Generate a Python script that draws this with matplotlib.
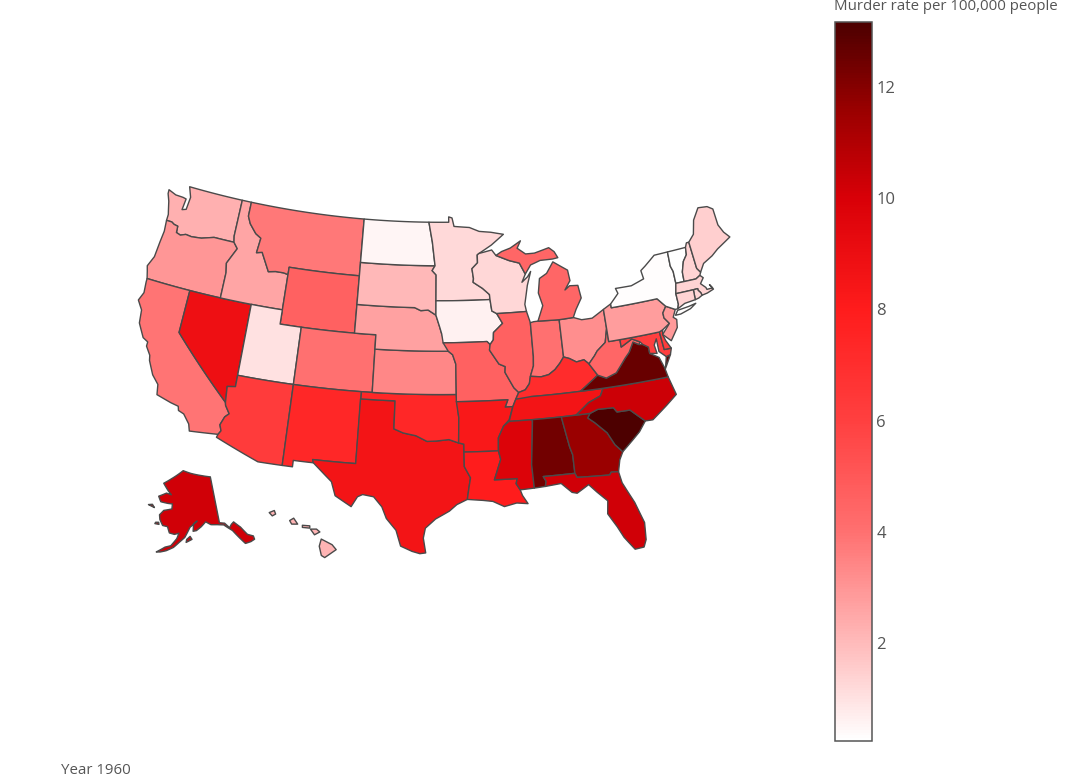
import numpy as np
import matplotlib
matplotlib.use('Agg')
import matplotlib.pyplot as plt
from matplotlib.collections import PolyCollection
from matplotlib.colors import LinearSegmentedColormap, Normalize

# murder rate per 100,000 for 1960, estimated from the fill colours
states = ['WA', 'OR', 'CA', 'NV', 'ID', 'MT', 'WY', 'UT', 'CO', 'AZ', 'NM', 'TX', 'OK', 'KS', 'NE', 'SD', 'ND',
          'MN', 'IA', 'MO', 'AR', 'LA', 'WI', 'IL', 'IN', 'OH', 'MI', 'KY', 'TN', 'MS', 'AL', 'GA', 'FL', 'SC',
          'NC', 'VA', 'WV', 'MD', 'DE', 'PA', 'NJ', 'NY', 'VT', 'NH', 'ME', 'MA', 'RI', 'CT', 'AK', 'HI']
rates = [2.3, 3.0, 3.9, 8.9, 2.6, 3.8, 4.6, 1.0, 4.0, 6.3, 7.4, 8.6, 7.4, 3.4, 2.7, 2.1, 0.5,
         1.2, 0.6, 4.6, 8.3, 8.0, 1.3, 4.6, 4.0, 3.2, 4.4, 7.1, 8.6, 9.8, 12.4, 11.6, 10.2, 13.2,
         10.3, 12.6, 4.4, 6.0, 6.2, 2.8, 2.9, 0.3, 0.25, 1.4, 1.5, 1.4, 1.3, 1.4, 10.2, 2.2]
tick_values = [2, 4, 6, 8, 10, 12]
rate_min = 0.24
rate_max = 13.17

# state outlines, lon/lat
outlines = {
    'WA': [[(-124.73, 48.38), (-123.9, 48.17), (-123.1, 48.15), (-122.75, 48.1), (-122.85, 47.3), (-122.45, 47.4), (-122.35, 48.3), (-122.75, 49.0), (-117.03, 49.0), (-117.04, 46.42), (-116.92, 45.99), (-118.98, 46.0), (-119.3, 45.93), (-120.2, 45.73), (-121.2, 45.65), (-121.8, 45.7), (-122.3, 45.55), (-122.75, 45.65), (-122.8, 46.1), (-123.2, 46.15), (-123.5, 46.27), (-124.05, 46.27), (-124.05, 46.7), (-124.15, 46.95), (-124.4, 47.6), (-124.7, 48.1)]],
    'OR': [[(-124.05, 46.27), (-123.5, 46.27), (-123.2, 46.15), (-122.8, 46.1), (-122.75, 45.65), (-122.3, 45.55), (-121.8, 45.7), (-121.2, 45.65), (-120.2, 45.73), (-119.3, 45.93), (-118.98, 46.0), (-116.92, 45.99), (-116.46, 45.6), (-116.85, 45.0), (-117.2, 44.45), (-117.03, 43.8), (-117.03, 42.0), (-124.21, 42.0), (-124.4, 42.5), (-124.55, 42.85), (-124.15, 43.6), (-124.05, 44.7), (-123.95, 45.5)]],
    'CA': [[(-124.21, 42.0), (-120.0, 42.0), (-120.0, 39.0), (-114.63, 35.0), (-114.57, 34.8), (-114.13, 34.27), (-114.45, 34.0), (-114.72, 33.4), (-114.53, 33.0), (-114.72, 32.72), (-117.12, 32.53), (-117.3, 33.0), (-117.9, 33.6), (-118.4, 33.75), (-118.5, 34.03), (-119.2, 34.15), (-120.5, 34.45), (-120.65, 35.15), (-121.3, 35.7), (-121.9, 36.6), (-122.0, 36.95), (-122.5, 37.5), (-122.5, 37.8), (-123.0, 38.0), (-123.7, 38.9), (-123.85, 39.8), (-124.4, 40.4), (-124.1, 41.0), (-124.2, 41.75)]],
    'NV': [[(-120.0, 42.0), (-114.04, 42.0), (-114.04, 36.2), (-114.75, 36.1), (-114.63, 35.0), (-120.0, 39.0)]],
    'ID': [[(-117.03, 49.0), (-116.05, 49.0), (-116.05, 48.0), (-115.7, 47.5), (-114.95, 46.9), (-114.35, 46.65), (-114.5, 45.6), (-113.95, 45.7), (-113.45, 45.05), (-113.0, 44.45), (-112.3, 44.55), (-111.5, 44.55), (-111.05, 44.48), (-111.05, 42.0), (-117.03, 42.0), (-117.03, 43.8), (-117.2, 44.45), (-116.85, 45.0), (-116.46, 45.6), (-116.92, 45.99), (-117.04, 46.42)]],
    'MT': [[(-116.05, 49.0), (-104.05, 49.0), (-104.05, 45.0), (-111.05, 45.0), (-111.05, 44.48), (-111.5, 44.55), (-112.3, 44.55), (-113.0, 44.45), (-113.45, 45.05), (-113.95, 45.7), (-114.5, 45.6), (-114.35, 46.65), (-114.95, 46.9), (-115.7, 47.5), (-116.05, 48.0)]],
    'WY': [[(-111.05, 45.0), (-104.05, 45.0), (-104.05, 41.0), (-111.05, 41.0)]],
    'UT': [[(-114.04, 42.0), (-111.05, 42.0), (-111.05, 41.0), (-109.05, 41.0), (-109.05, 37.0), (-114.04, 37.0)]],
    'CO': [[(-109.05, 41.0), (-102.05, 41.0), (-102.05, 37.0), (-109.05, 37.0)]],
    'AZ': [[(-114.04, 37.0), (-109.05, 37.0), (-109.05, 31.33), (-111.07, 31.33), (-114.8, 32.5), (-114.72, 32.72), (-114.53, 33.0), (-114.72, 33.4), (-114.45, 34.0), (-114.13, 34.27), (-114.57, 34.8), (-114.63, 35.0), (-114.75, 36.1), (-114.04, 36.2)]],
    'NM': [[(-109.05, 37.0), (-103.0, 37.0), (-103.04, 32.0), (-106.62, 32.0), (-106.53, 31.78), (-108.2, 31.78), (-108.2, 31.33), (-109.05, 31.33)]],
    'TX': [[(-103.04, 36.5), (-100.0, 36.5), (-100.0, 34.56), (-99.2, 34.3), (-98.1, 34.13), (-97.15, 33.75), (-96.4, 33.78), (-95.3, 33.88), (-94.48, 33.64), (-94.04, 33.55), (-94.04, 31.99), (-93.55, 31.2), (-93.7, 30.5), (-93.85, 29.7), (-94.7, 29.35), (-95.3, 28.9), (-96.4, 28.35), (-97.2, 27.7), (-97.35, 27.0), (-97.15, 25.96), (-97.6, 25.9), (-98.2, 26.05), (-99.1, 26.4), (-99.5, 27.5), (-100.3, 28.3), (-100.7, 29.1), (-101.4, 29.77), (-102.3, 29.88), (-102.7, 29.7), (-103.15, 28.98), (-104.5, 29.65), (-104.9, 30.6), (-106.0, 31.4), (-106.53, 31.78), (-106.62, 32.0), (-103.04, 32.0)]],
    'OK': [[(-103.0, 37.0), (-94.62, 37.0), (-94.43, 35.4), (-94.48, 33.64), (-95.3, 33.88), (-96.4, 33.78), (-97.15, 33.75), (-98.1, 34.13), (-99.2, 34.3), (-100.0, 34.56), (-100.0, 36.5), (-103.0, 36.5)]],
    'KS': [[(-102.05, 40.0), (-95.3, 40.0), (-94.9, 39.75), (-94.62, 39.1), (-94.62, 37.0), (-102.05, 37.0)]],
    'NE': [[(-104.05, 43.0), (-98.5, 43.0), (-97.9, 42.8), (-97.2, 42.85), (-96.45, 42.5), (-96.1, 41.7), (-95.9, 41.2), (-95.3, 40.0), (-102.05, 40.0), (-102.05, 41.0), (-104.05, 41.0)]],
    'SD': [[(-104.05, 45.94), (-96.56, 45.94), (-96.85, 45.6), (-96.45, 45.3), (-96.45, 43.5), (-96.45, 42.5), (-97.2, 42.85), (-97.9, 42.8), (-98.5, 43.0), (-104.05, 43.0)]],
    'ND': [[(-104.05, 49.0), (-97.23, 49.0), (-96.85, 47.6), (-96.56, 45.94), (-104.05, 45.94)]],
    'MN': [[(-97.23, 49.0), (-95.15, 49.0), (-95.15, 49.38), (-94.8, 49.3), (-94.6, 48.7), (-93.0, 48.6), (-92.0, 48.3), (-90.8, 48.2), (-89.5, 48.0), (-90.8, 47.3), (-92.1, 46.75), (-92.29, 46.65), (-92.29, 46.1), (-92.87, 45.7), (-92.75, 45.0), (-92.8, 44.75), (-91.9, 44.3), (-91.25, 43.85), (-91.22, 43.5), (-96.45, 43.5), (-96.45, 45.3), (-96.85, 45.6), (-96.56, 45.94), (-96.85, 47.6)]],
    'IA': [[(-96.45, 43.5), (-91.22, 43.5), (-91.1, 42.7), (-90.65, 42.5), (-90.15, 41.8), (-91.05, 41.2), (-91.1, 40.7), (-91.42, 40.38), (-91.7, 40.6), (-95.77, 40.58), (-95.9, 41.2), (-96.1, 41.7), (-96.45, 42.5)]],
    'MO': [[(-95.77, 40.58), (-91.7, 40.6), (-91.42, 40.38), (-91.5, 40.0), (-90.7, 39.0), (-90.15, 38.8), (-90.2, 38.4), (-89.5, 37.3), (-89.1, 36.95), (-89.4, 36.5), (-89.7, 36.0), (-90.37, 36.0), (-90.1, 36.5), (-94.62, 36.5), (-94.62, 39.1), (-94.9, 39.75), (-95.3, 40.0)]],
    'AR': [[(-94.62, 36.5), (-90.1, 36.5), (-90.37, 36.0), (-89.7, 36.0), (-90.1, 35.1), (-90.6, 34.7), (-91.1, 33.9), (-91.15, 33.0), (-94.04, 33.0), (-94.04, 33.55), (-94.48, 33.64), (-94.43, 35.4)]],
    'LA': [[(-94.04, 33.0), (-91.15, 33.0), (-91.0, 32.4), (-91.6, 31.0), (-89.73, 31.0), (-89.85, 30.65), (-89.55, 30.2), (-89.4, 29.8), (-89.0, 29.2), (-89.9, 29.3), (-90.9, 29.1), (-91.8, 29.5), (-92.6, 29.6), (-93.85, 29.7), (-93.7, 30.5), (-93.55, 31.2), (-94.04, 31.99)]],
    'WI': [[(-92.1, 46.75), (-90.8, 46.95), (-90.4, 46.55), (-89.1, 46.13), (-88.1, 45.9), (-87.6, 45.1), (-88.0, 44.55), (-87.4, 44.9), (-87.05, 45.25), (-87.5, 44.3), (-87.9, 43.0), (-87.8, 42.5), (-90.65, 42.5), (-91.1, 42.7), (-91.22, 43.5), (-91.25, 43.85), (-91.9, 44.3), (-92.8, 44.75), (-92.75, 45.0), (-92.87, 45.7), (-92.29, 46.1), (-92.29, 46.65)]],
    'IL': [[(-90.65, 42.5), (-87.8, 42.5), (-87.53, 41.7), (-87.53, 39.35), (-87.6, 38.7), (-87.95, 38.0), (-88.1, 37.5), (-88.5, 37.1), (-89.1, 36.95), (-89.5, 37.3), (-90.2, 38.4), (-90.15, 38.8), (-90.7, 39.0), (-91.5, 40.0), (-91.42, 40.38), (-91.1, 40.7), (-91.05, 41.2), (-90.15, 41.8)]],
    'IN': [[(-87.53, 41.7), (-87.2, 41.75), (-86.8, 41.76), (-84.8, 41.7), (-84.8, 39.1), (-85.2, 38.7), (-85.7, 38.3), (-86.3, 38.0), (-87.0, 37.9), (-87.95, 38.0), (-87.6, 38.7), (-87.53, 39.35)]],
    'OH': [[(-84.8, 41.7), (-83.45, 41.73), (-82.7, 41.5), (-81.7, 41.5), (-80.52, 41.98), (-80.52, 40.64), (-80.85, 39.7), (-81.7, 39.2), (-82.0, 38.9), (-82.6, 38.4), (-83.0, 38.73), (-83.7, 38.65), (-84.3, 38.95), (-84.8, 39.1)]],
    'MI': [[(-86.8, 41.76), (-84.8, 41.7), (-83.45, 41.73), (-83.1, 42.25), (-82.45, 43.0), (-82.6, 43.9), (-83.4, 43.95), (-83.9, 43.7), (-83.3, 44.3), (-83.4, 45.05), (-84.75, 45.75), (-85.5, 45.0), (-86.25, 44.7), (-86.5, 43.7), (-86.2, 42.8)],
           [(-90.4, 46.55), (-89.1, 46.13), (-88.1, 45.9), (-87.6, 45.1), (-87.0, 45.7), (-86.0, 45.95), (-84.75, 45.95), (-84.2, 46.0), (-84.5, 46.45), (-85.0, 46.77), (-86.5, 46.5), (-87.4, 46.5), (-88.2, 46.95), (-87.8, 47.45), (-88.9, 47.0), (-89.8, 46.8)]],
    'KY': [[(-89.4, 36.5), (-89.1, 36.95), (-88.5, 37.1), (-88.1, 37.5), (-87.95, 38.0), (-87.0, 37.9), (-86.3, 38.0), (-85.7, 38.3), (-85.2, 38.7), (-84.8, 39.1), (-84.3, 38.95), (-83.7, 38.65), (-83.0, 38.73), (-82.6, 38.4), (-81.97, 37.54), (-83.68, 36.6), (-88.07, 36.6), (-88.07, 36.5)]],
    'TN': [[(-90.1, 35.0), (-89.7, 36.0), (-89.4, 36.5), (-88.07, 36.6), (-83.68, 36.6), (-81.68, 36.59), (-82.0, 36.1), (-83.1, 35.75), (-84.32, 35.0)]],
    'MS': [[(-90.1, 35.0), (-88.2, 35.0), (-88.1, 34.9), (-88.47, 31.9), (-88.4, 30.25), (-89.55, 30.2), (-89.85, 30.65), (-89.73, 31.0), (-91.6, 31.0), (-91.0, 32.4), (-91.15, 33.0), (-91.1, 33.9), (-90.6, 34.7)]],
    'AL': [[(-88.2, 35.0), (-85.6, 35.0), (-85.18, 32.87), (-85.0, 32.3), (-85.0, 31.0), (-87.6, 31.0), (-87.4, 30.65), (-87.5, 30.3), (-88.4, 30.25), (-88.47, 31.9), (-88.1, 34.9)]],
    'GA': [[(-85.6, 35.0), (-83.1, 35.0), (-83.35, 34.7), (-82.8, 34.3), (-81.9, 33.5), (-81.4, 32.6), (-80.85, 32.03), (-81.2, 31.5), (-81.45, 30.7), (-82.05, 30.75), (-82.2, 30.57), (-84.86, 30.7), (-85.0, 31.0), (-85.0, 32.3), (-85.18, 32.87)]],
    'FL': [[(-87.6, 31.0), (-85.0, 31.0), (-84.86, 30.7), (-82.2, 30.57), (-82.05, 30.75), (-81.45, 30.7), (-81.3, 29.9), (-80.55, 28.4), (-80.05, 26.9), (-80.15, 25.7), (-80.4, 25.2), (-81.1, 25.15), (-81.8, 26.1), (-82.2, 26.9), (-82.8, 27.9), (-82.65, 28.8), (-83.4, 29.5), (-84.0, 30.1), (-85.0, 29.6), (-85.4, 29.7), (-86.2, 30.4), (-87.5, 30.3), (-87.4, 30.65)]],
    'SC': [[(-83.35, 34.7), (-83.1, 35.0), (-82.4, 35.2), (-81.05, 35.15), (-80.8, 34.82), (-79.67, 34.8), (-78.55, 33.87), (-79.2, 33.2), (-79.9, 32.7), (-80.85, 32.03), (-81.4, 32.6), (-81.9, 33.5), (-82.8, 34.3)]],
    'NC': [[(-84.32, 35.0), (-83.1, 35.75), (-82.0, 36.1), (-81.68, 36.59), (-75.87, 36.55), (-75.5, 35.25), (-76.5, 34.65), (-77.9, 33.85), (-78.55, 33.87), (-79.67, 34.8), (-80.8, 34.82), (-81.05, 35.15), (-82.4, 35.2), (-83.1, 35.0)]],
    'VA': [[(-83.68, 36.6), (-81.68, 36.59), (-75.87, 36.55), (-76.0, 37.2), (-76.3, 38.0), (-77.05, 38.4), (-77.05, 38.85), (-77.5, 39.1), (-77.85, 39.15), (-78.35, 39.4), (-78.85, 38.75), (-79.3, 38.4), (-80.3, 37.5), (-81.25, 37.25), (-81.97, 37.54)],
           [(-75.95, 37.15), (-75.25, 38.03), (-75.65, 37.95)]],
    'WV': [[(-82.6, 38.4), (-81.97, 37.54), (-81.25, 37.25), (-80.3, 37.5), (-79.3, 38.4), (-78.85, 38.75), (-78.35, 39.4), (-77.85, 39.15), (-77.72, 39.32), (-78.4, 39.62), (-79.48, 39.2), (-79.48, 39.72), (-80.52, 39.72), (-80.52, 40.64), (-80.85, 39.7), (-81.7, 39.2), (-82.0, 38.9)]],
    'MD': [[(-79.48, 39.72), (-75.79, 39.72), (-75.7, 38.46), (-75.05, 38.45), (-75.25, 38.03), (-75.65, 37.95), (-76.2, 38.4), (-76.2, 39.3), (-76.5, 38.9), (-76.4, 38.3), (-77.05, 38.4), (-77.05, 38.85), (-77.5, 39.1), (-77.72, 39.32), (-78.4, 39.62), (-79.48, 39.2)]],
    'DE': [[(-75.79, 39.72), (-75.45, 39.82), (-75.55, 39.5), (-75.4, 39.05), (-75.05, 38.45), (-75.7, 38.46)]],
    'PA': [[(-80.52, 41.98), (-79.76, 42.27), (-79.76, 42.0), (-75.35, 42.0), (-74.7, 41.36), (-75.1, 40.95), (-75.1, 40.6), (-74.72, 40.15), (-75.45, 39.82), (-75.79, 39.72), (-80.52, 39.72)]],
    'NJ': [[(-74.7, 41.36), (-73.9, 41.0), (-74.25, 40.5), (-73.98, 40.3), (-74.1, 39.75), (-74.9, 38.95), (-75.55, 39.5), (-74.72, 40.15), (-75.1, 40.6), (-75.1, 40.95)]],
    'NY': [[(-79.76, 42.27), (-79.76, 42.0), (-75.35, 42.0), (-74.7, 41.36), (-73.9, 41.0), (-73.65, 41.0), (-73.5, 41.3), (-73.5, 42.05), (-73.27, 42.75), (-73.25, 43.6), (-73.4, 44.0), (-73.34, 45.01), (-74.7, 45.0), (-75.8, 44.4), (-76.3, 44.15), (-76.2, 43.55), (-77.5, 43.25), (-79.05, 43.27), (-78.9, 42.9)],
           [(-74.0, 40.6), (-73.7, 40.9), (-72.6, 40.98), (-71.9, 41.07), (-72.5, 40.8), (-73.5, 40.6)]],
    'VT': [[(-73.34, 45.01), (-71.5, 45.01), (-71.6, 44.5), (-72.05, 44.1), (-72.4, 43.4), (-72.46, 42.73), (-73.27, 42.75), (-73.25, 43.6), (-73.4, 44.0)]],
    'NH': [[(-71.5, 45.01), (-71.3, 45.3), (-71.05, 45.3), (-70.97, 43.4), (-70.7, 43.07), (-70.85, 42.87), (-71.3, 42.7), (-72.46, 42.73), (-72.4, 43.4), (-72.05, 44.1), (-71.6, 44.5)]],
    'ME': [[(-71.05, 45.3), (-70.4, 45.75), (-70.0, 46.7), (-69.23, 47.45), (-68.3, 47.35), (-67.8, 47.07), (-67.78, 45.9), (-67.45, 45.3), (-67.0, 44.85), (-68.5, 44.3), (-69.2, 43.95), (-70.2, 43.6), (-70.7, 43.07), (-70.97, 43.4)]],
    'MA': [[(-73.5, 42.05), (-73.27, 42.75), (-72.46, 42.73), (-71.3, 42.7), (-70.85, 42.87), (-70.6, 42.65), (-71.0, 42.3), (-70.6, 41.95), (-70.55, 41.8), (-70.0, 41.8), (-70.2, 42.07), (-69.95, 41.7), (-70.6, 41.55), (-71.13, 41.5), (-71.2, 41.7), (-71.38, 41.9), (-71.38, 42.02), (-71.8, 42.02)]],
    'RI': [[(-71.8, 42.02), (-71.38, 42.02), (-71.38, 41.9), (-71.2, 41.7), (-71.13, 41.5), (-71.5, 41.37), (-71.86, 41.32)]],
    'CT': [[(-73.5, 42.05), (-71.8, 42.02), (-71.86, 41.32), (-72.9, 41.25), (-73.65, 41.0), (-73.5, 41.3)]],
    'AK': [[(-141.0, 69.65), (-141.0, 60.3), (-139.0, 60.0), (-137.5, 58.9), (-136.5, 59.45), (-135.4, 59.8), (-133.4, 58.4), (-131.8, 56.6), (-130.0, 55.9), (-130.0, 55.2), (-131.5, 55.0), (-133.5, 55.0), (-135.5, 57.0), (-136.7, 58.2), (-139.5, 59.7), (-142.0, 60.0), (-144.5, 60.2), (-146.5, 60.9), (-148.5, 60.0), (-150.5, 59.3), (-151.8, 59.2), (-151.5, 60.7), (-150.0, 61.2), (-153.0, 60.0), (-154.0, 59.0), (-155.0, 58.0), (-157.0, 57.0), (-159.0, 55.9), (-161.5, 55.1), (-163.5, 54.7), (-164.8, 54.6), (-162.0, 55.8), (-160.0, 56.2), (-158.0, 57.7), (-157.3, 58.8), (-159.0, 58.5), (-161.0, 58.7), (-162.0, 59.9), (-164.0, 60.0), (-165.5, 61.1), (-166.0, 62.0), (-164.5, 63.0), (-161.0, 63.5), (-161.0, 64.5), (-163.0, 64.5), (-166.5, 64.6), (-168.0, 65.6), (-164.5, 66.5), (-162.0, 66.3), (-163.8, 67.0), (-166.8, 68.35), (-163.0, 69.5), (-156.6, 71.35), (-152.0, 70.8), (-146.0, 70.2)],
           [(-154.5, 57.0), (-152.3, 57.6), (-153.0, 58.2), (-154.3, 57.6)],
           [(-171.7, 63.5), (-168.8, 63.2), (-170.0, 63.75)],
           [(-167.2, 60.1), (-165.5, 60.1), (-165.8, 60.5), (-167.0, 60.4)]],
    'HI': [[(-155.9, 20.25), (-155.1, 19.85), (-154.8, 19.5), (-155.65, 18.95), (-155.9, 19.1), (-156.05, 19.75)],
           [(-156.7, 20.95), (-156.25, 20.95), (-156.0, 20.75), (-156.4, 20.55)],
           [(-157.3, 21.22), (-156.75, 21.18), (-156.75, 21.02), (-157.3, 21.07)],
           [(-158.25, 21.55), (-157.95, 21.72), (-157.65, 21.3), (-158.1, 21.3)],
           [(-159.78, 22.1), (-159.4, 22.25), (-159.3, 22.0), (-159.55, 21.87)]],
}

MAP_SCALE = 820
MAP_X = 434
MAP_Y = 370


def conic(lon, lat, rotate, y0, y1, center):
    # d3 style conic equal area, result in unit sphere coords
    s0, s1 = np.sin(np.radians(y0)), np.sin(np.radians(y1))
    n = (s0 + s1) / 2
    c = 1 + s0 * (2 * n - s0)
    r0 = np.sqrt(c) / n

    def raw(lo, la):
        r = np.sqrt(c - 2 * n * np.sin(np.radians(la))) / n
        a = n * np.radians(lo + rotate)
        return r * np.sin(a), r0 - r * np.cos(a)
    x, y = raw(lon, lat)
    cx, cy = raw(center[0] - rotate, center[1])
    return x - cx, y - cy


def project(state, lon, lat):
    if state == 'AK':
        x, y = conic(lon, lat, 154, 55, 65, (-2, 58.5))
        return MAP_X - 0.307 * MAP_SCALE + x * 0.35 * MAP_SCALE, MAP_Y + 0.201 * MAP_SCALE - y * 0.35 * MAP_SCALE
    if state == 'HI':
        x, y = conic(lon, lat, 157, 8, 18, (-3, 19.9))
        return MAP_X - 0.205 * MAP_SCALE + x * MAP_SCALE, MAP_Y + 0.212 * MAP_SCALE - y * MAP_SCALE
    x, y = conic(lon, lat, 96, 29.5, 45.5, (-0.6, 38.7))
    return MAP_X + x * MAP_SCALE, MAP_Y - y * MAP_SCALE


def densify(ring):
    # long straight borders have to bend with the projection
    pts = np.array(ring + [ring[0]])
    out = []
    for a, b in zip(pts[:-1], pts[1:]):
        steps = max(1, int(np.hypot(*(b - a)) / 0.5))
        for t in np.arange(steps) / steps:
            out.append(a + (b - a) * t)
    return np.array(out)


plt.rcParams['font.family'] = ['Open Sans', 'DejaVu Sans']
text_color = '#555555'

reds = LinearSegmentedColormap.from_list('murder', [
    (0.0, (1.0, 1.0, 1.0)),
    (0.136, (1.0, 0.73, 0.73)),
    (0.29, (1.0, 0.44, 0.44)),
    (0.445, (1.0, 0.25, 0.25)),
    (0.60, (1.0, 0.11, 0.11)),
    (0.755, (0.85, 0.0, 0.03)),
    (0.88, (0.60, 0.0, 0.0)),
    (1.0, (0.30, 0.0, 0.0)),
])
norm = Normalize(rate_min, rate_max)

polys = []
poly_rates = []
for st, rate in zip(states, rates):
    for ring in outlines[st]:
        d = densify(ring)
        px, py = project(st, d[:, 0], d[:, 1])
        polys.append(np.column_stack([px, py]))
        poly_rates.append(rate)

fig = plt.figure(figsize=(10.87, 7.82), dpi=100)
ax = fig.add_axes([0, 0, 1, 1])
ax.set_xlim(0, 1087)
ax.set_ylim(782, 0)
ax.axis('off')

coll = PolyCollection(polys, array=np.array(poly_rates), cmap=reds, norm=norm,
                      edgecolors='#4a4a4a', linewidths=1.0)
ax.add_collection(coll)

cax = fig.add_axes([835 / 1087, 1 - 741 / 782, 37 / 1087, 719 / 782])
cb = fig.colorbar(coll, cax=cax)
cb.set_ticks(tick_values)
cb.ax.tick_params(length=0, labelsize=12, labelcolor=text_color, pad=3)
cb.outline.set_edgecolor('#555555')
cb.outline.set_linewidth(1.1)

ax.text(834, 7, 'Murder rate per 100,000 people', fontsize=10.8, color=text_color, ha='left', va='center')
ax.text(61, 770, 'Year 1960', fontsize=10.8, color=text_color, ha='left', va='center')

fig.savefig('out.png', dpi=100)
